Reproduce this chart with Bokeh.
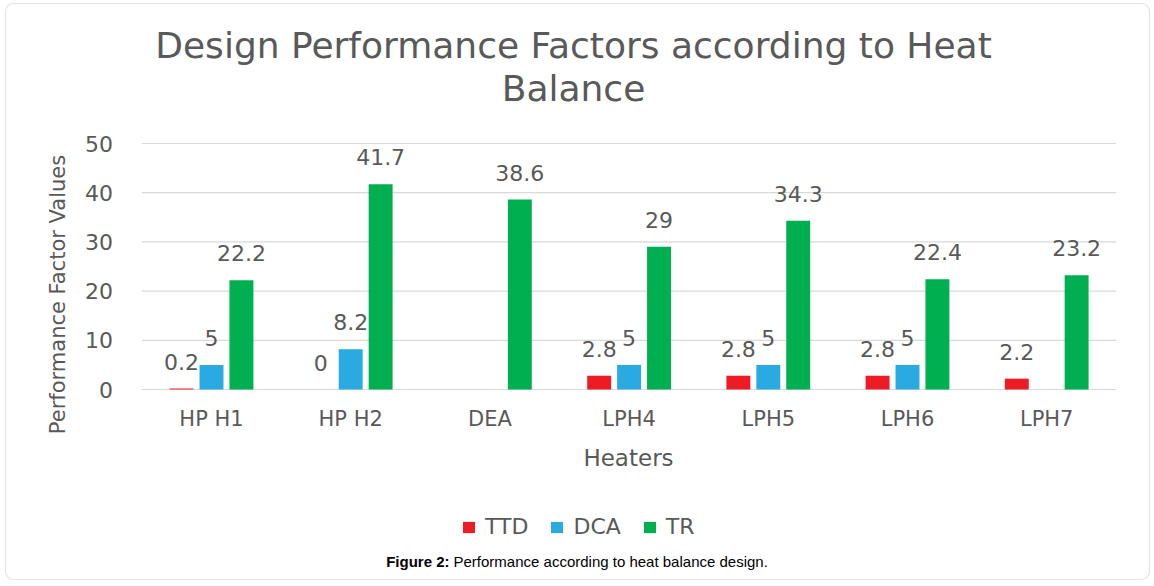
import math
from bokeh.plotting import figure
from bokeh.models import (ColumnDataSource, Range1d, FixedTicker, Label,
                          Legend, LegendItem, BoxAnnotation)
from bokeh.transform import dodge
from bokeh.core.properties import value
from bokeh.embed import file_html
from bokeh.resources import INLINE

heaters = ["HP H1", "HP H2", "DEA", "LPH4", "LPH5", "LPH6", "LPH7"]
ttd = [0.2, 0, None, 2.8, 2.8, 2.8, 2.2]
dca = [5, 8.2, None, 5, 5, 5, None]
tr = [22.2, 41.7, 38.6, 29, 34.3, 22.4, 23.2]
series_names = ["TTD", "DCA", "TR"]
series_colors = ["#ED1C24", "#29ABE2", "#00B050"]
y_ticks = [0, 10, 20, 30, 40, 50]
title_lines = ["Design Performance Factors according to Heat", "Balance"]
y_label = "Performance Factor Values"
x_label = "Heaters"
caption_bold = "Figure 2:"
caption_text = "Performance according to heat balance design."

FONT = "DejaVu Sans"
GRAY = "#595959"
W, H = 1154, 586
# layout: category pitch and first-category centre in px, value scale in px
PITCH, X0 = 139.2, 211.0
Y0, PXU = 389.0, 4.92

n = len(heaters)
xs_idx = list(range(n))

p = figure(x_range=Range1d(-X0 / PITCH, (W - X0) / PITCH),
           y_range=Range1d(-(H - Y0) / PXU, Y0 / PXU),
           width=W, height=H, output_backend="svg", toolbar_location=None, title=None,
           min_border=0)
p.outline_line_color = None
p.background_fill_color = "white"
p.border_fill_color = "white"
p.xgrid.visible = False
p.ygrid.visible = False

# gridlines over the category span
p.segment(x0=[-0.5] * len(y_ticks), x1=[n - 0.5] * len(y_ticks), y0=y_ticks, y1=y_ticks,
          line_color="#D9D9D9", line_width=1.2)

yax = p.yaxis[0]
yax.fixed_location = -0.5
yax.ticker = FixedTicker(ticks=y_ticks)
yax.axis_line_color = None
yax.major_tick_line_color = None
yax.minor_tick_line_color = None
yax.major_tick_out = 0
yax.major_tick_in = 0
yax.major_label_text_font = FONT
yax.major_label_text_font_size = "22px"
yax.major_label_text_color = GRAY
yax.major_label_standoff = 29

xax = p.xaxis[0]
xax.fixed_location = 0
xax.ticker = FixedTicker(ticks=xs_idx)
xax.major_label_overrides = {i: h for i, h in zip(xs_idx, heaters)}
xax.axis_line_color = None
xax.major_tick_line_color = None
xax.minor_tick_line_color = None
xax.major_tick_out = 0
xax.major_tick_in = 0
xax.major_label_text_font = FONT
xax.major_label_text_font_size = "21px"
xax.major_label_text_color = GRAY
xax.major_label_standoff = 17

offsets = [-0.215, 0.0, 0.215]
bar_w = 0.172
items = []
for name, vals, col, off in zip(series_names, [ttd, dca, tr], series_colors, offsets):
    xs = [i for i, v in zip(xs_idx, vals) if v is not None]
    ys = [v for v in vals if v is not None]
    labels = [f"{v:g}" for v in ys]
    src = ColumnDataSource(dict(x=xs, y=ys, label=labels))
    r = p.vbar(x=dodge("x", off), top="y", width=bar_w, source=src,
               fill_color=col, line_color=None)
    p.text(x=dodge("x", off), y="y", text="label", source=src,
           text_align="center", text_baseline="alphabetic", y_offset=-27,
           text_font=value(FONT), text_font_size="22px", text_color=GRAY)
    items.append(LegendItem(label=name, renderers=[r]))


def sy(y):
    return H - y


# Title
for i, (line, base) in enumerate(zip(title_lines, [45, 88])):
    p.add_layout(Label(x=573, y=sy(base), x_units="screen", y_units="screen",
                       text=line, text_align="center", text_baseline="alphabetic",
                       text_font=FONT, text_font_size="36px", text_color=GRAY))

# Axis titles
p.add_layout(Label(x=57, y=sy(294), x_units="screen", y_units="screen", text=y_label,
                   angle=math.pi / 2, text_align="center", text_baseline="middle",
                   text_font=FONT, text_font_size="21px", text_color=GRAY))
p.add_layout(Label(x=628, y=sy(457), x_units="screen", y_units="screen", text=x_label,
                   text_align="center", text_baseline="alphabetic",
                   text_font=FONT, text_font_size="23px", text_color=GRAY))

legend = Legend(items=items, orientation="horizontal", location=(461, sy(539)),
                padding=0, margin=0, spacing=21, label_standoff=9,
                glyph_width=15, glyph_height=14, label_height=16,
                label_text_font=FONT, label_text_font_size="22px", label_text_color=GRAY,
                border_line_color=None, background_fill_alpha=0)
p.add_layout(legend, "center")

# Caption
p.add_layout(Label(x=449, y=sy(561), x_units="screen", y_units="screen", text=caption_bold,
                   text_align="right", text_baseline="alphabetic", text_font="Liberation Sans",
                   text_font_style="bold", text_font_size="15px", text_color="black"))
p.add_layout(Label(x=453, y=sy(561), x_units="screen", y_units="screen", text=caption_text,
                   text_align="left", text_baseline="alphabetic", text_font="Liberation Sans",
                   text_font_size="15px", text_color="black"))

# Outer rounded frame
p.add_layout(BoxAnnotation(left=5, right=1149, top=sy(3), bottom=sy(579),
                           left_units="screen", right_units="screen", top_units="screen",
                           bottom_units="screen", fill_alpha=0, line_color="#A6A6A6",
                           line_width=1.2, border_radius=8, level="overlay"))

open("out.html", "w").write(file_html(p, INLINE))
